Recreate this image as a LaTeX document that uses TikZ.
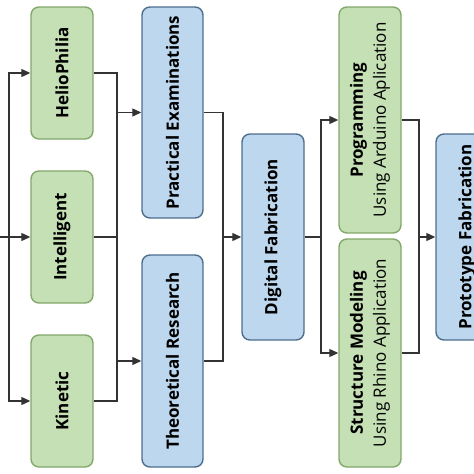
\documentclass[tikz,border=0pt]{standalone}
\usepackage{fontspec}
\setmainfont{Open Sans}
\usetikzlibrary{arrows.meta}
\definecolor{gfill}{HTML}{C5E0B4}
\definecolor{gdraw}{HTML}{82A86A}
\definecolor{bfill}{HTML}{BDD7EE}
\definecolor{bdraw}{HTML}{4E6E8E}
\tikzset{
  x=1pt, y=1pt,
  box/.style={rounded corners=8pt, line width=1.4pt, rotate=90, inner sep=0pt,
    align=center, font=\fontsize{17}{23}\selectfont},
  gbox/.style={box, fill=gfill, draw=gdraw},
  bbox/.style={box, fill=bfill, draw=bdraw},
  conn/.style={line width=1.2pt, draw=black!80},
  arr/.style={conn, -{Triangle[length=9pt,width=8pt]}},
}
\begin{document}
\begin{tikzpicture}
\useasboundingbox (0,0) rectangle (474,-474);
% column 1
\node[gbox, minimum width=132pt, minimum height=62pt] (helio) at (62,-73) {\bfseries HelioPhilia};
\node[gbox, minimum width=132pt, minimum height=62pt] (intel) at (62,-237) {\bfseries Intelligent};
\node[gbox, minimum width=132pt, minimum height=62pt] (kin) at (62,-401) {\bfseries Kinetic};
% column 2
\node[bbox, minimum width=211pt, minimum height=61pt] (pe) at (172.5,-112.5) {\bfseries Practical Examinations};
\node[bbox, minimum width=212pt, minimum height=61pt] (tr) at (172.5,-361) {\bfseries Theoretical Research};
% column 3
\node[bbox, minimum width=206pt, minimum height=62pt] (df) at (273,-237) {\bfseries Digital Fabrication};
% column 4
\node[gbox, minimum width=226pt, minimum height=62pt] (prog) at (370,-120) {\bfseries Programming\\Using Arduino Aplication};
\node[gbox, minimum width=228pt, minimum height=62pt] (struct) at (370,-353) {\bfseries Structure Modeling\\Using Rhino Application};
% column 5
\node[bbox, minimum width=206pt, minimum height=62pt] (proto) at (467,-237) {\bfseries Prototype Fabrication};
% junctions
\coordinate (in) at (0,-237);
\coordinate (j1) at (9,-237);
\coordinate (j2) at (117,-237);
\coordinate (j3) at (223,-237);
\coordinate (j4) at (321,-237);
\coordinate (j5) at (419,-237);
% connectors
\draw[conn] (in) -- (j1);
\draw[arr] (j1) |- (helio.north);
\draw[arr] (j1) -- (intel.north);
\draw[arr] (j1) |- (kin.north);
\draw[conn] (helio.south) -| (j2) |- (kin.south);
\draw[conn] (intel.south) -- (j2);
\draw[arr] (j2 |- pe.north) -- (pe.north);
\draw[arr] (j2 |- tr.north) -- (tr.north);
\draw[conn] (pe.south) -| (j3) |- (tr.south);
\draw[arr] (j3) -- (df.north);
\draw[conn] (df.south) -- (j4);
\draw[arr] (j4) |- (prog.north);
\draw[arr] (j4) |- (struct.north);
\draw[conn] (prog.south) -| (j5) |- (struct.south);
\draw[arr] (j5) -- (proto.north);
\end{tikzpicture}
\end{document}
